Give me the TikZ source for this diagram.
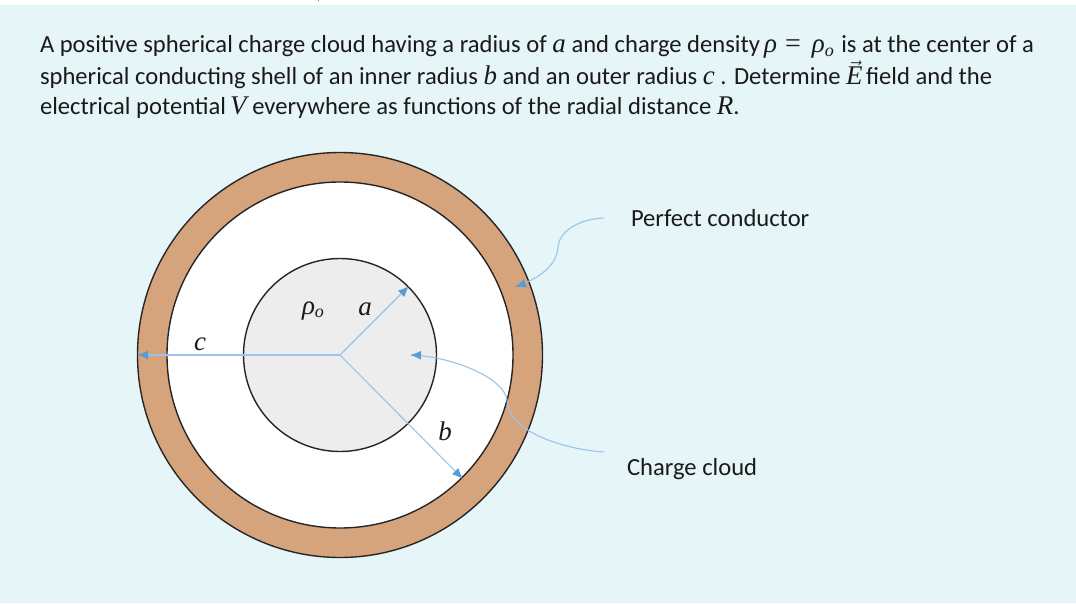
\documentclass[tikz,border=0pt]{standalone}
\usepackage{fontspec}
\setmainfont{Carlito}
\newfontfamily\mathfam{Liberation Serif}
\usetikzlibrary{arrows.meta,bending}
\newcommand{\mv}[1]{{\fontsize{27}{27}\selectfont\mathfam\itshape #1}}
\newcommand{\rhoo}{\mv{ρ}\raisebox{-3.5pt}{\fontsize{18}{18}\selectfont\mathfam\itshape o}}
\newcommand{\eqs}{{\fontsize{28}{28}\selectfont\mathfam =}}
\definecolor{bgcol}{HTML}{E6F5F7}
\definecolor{shell}{HTML}{D5A47C}
\definecolor{cloud}{HTML}{EDEDED}
\definecolor{leader}{HTML}{9DC3E6}
\definecolor{tipcol}{HTML}{5B9BD5}
\definecolor{ink}{HTML}{1A1A1A}
\tikzset{
  txt/.style={anchor=base west,inner sep=0pt,outer sep=0pt,text=ink,font=\fontsize{24.6}{24.6}\selectfont},
  sym/.style={anchor=base,inner sep=0pt,text=ink,font=\fontsize{24.6}{24.6}\selectfont},
  ring/.style={circle,draw=black!85,line width=1.4pt,inner sep=0pt,minimum size=#1},
  lead/.style={draw=leader,line width=1.1pt,-{Latex[length=11pt,width=9pt,flex=0,color=tipcol]}},
}
\begin{document}
\begin{tikzpicture}[x=1pt,y=-1pt]
\useasboundingbox (0,0) rectangle (1076,604);
\fill[white] (0,0) rectangle (1076,604);
\fill[bgcol] (0,5) rectangle (1076,603);
\draw[gray,line width=0.5pt] (318,0) -- (318,1.5);

\node[txt] (l1) at (40,53) {A positive spherical charge cloud having a radius of \mv{a} and charge density\,\mv{ρ}\hspace{8pt}\eqs\hspace{11pt}\rhoo\hspace{2pt} is at the center of a};
\node[txt] (l2) at (40,85) {spherical conducting shell of an inner radius \mv{b} and an outer radius \mv{c} . Determine $\vec{\hbox{\mv{E}}}$\hspace{-2pt} field and the};
\node[txt] (l3) at (40,115) {electrical potential\,\mv{V} everywhere as functions of the radial distance \mv{R}.};

\node[ring=405pt,fill=shell] (outer) at (340,355) {};
\node[ring=346pt,fill=white] (inner) at (340,355) {};
\node[ring=193pt,fill=cloud] (core) at (340,355) {};
\coordinate (ctr) at (340,355);

\coordinate (ta) at (409,286);
\coordinate (tb) at (463,479);
\coordinate (tc) at (137,355);
\draw[lead] (ctr) -- (ta);
\draw[lead] (ctr) -- (tb);
\draw[lead] (ctr) -- (tc);

\node[sym] (rholab) at (313,314) {\rhoo};
\node[sym] (alab) at (365,315) {\mv{a}};
\node[sym] (clab) at (200,350) {\mv{c}};
\node[sym] (blab) at (445,440) {\mv{b}};

\node[txt] (pc) at (631,226) {Perfect conductor};
\node[txt] (cc) at (627,475) {Charge cloud};

\coordinate (ps) at (604,218);
\coordinate (pm) at (558,247);
\coordinate (pe) at (515,287);
\coordinate (cs) at (604,452);
\coordinate (cm) at (507,400);
\coordinate (ce) at (410,355);
\draw[lead] (ps) .. controls (578,219) and (559,232) .. (pm)
            .. controls (557,266) and (538,279) .. (pe);
\draw[lead] (cs) .. controls (560,449) and (507,430) .. (cm)
            .. controls (504,377) and (450,356) .. (ce);
\end{tikzpicture}
\end{document}
